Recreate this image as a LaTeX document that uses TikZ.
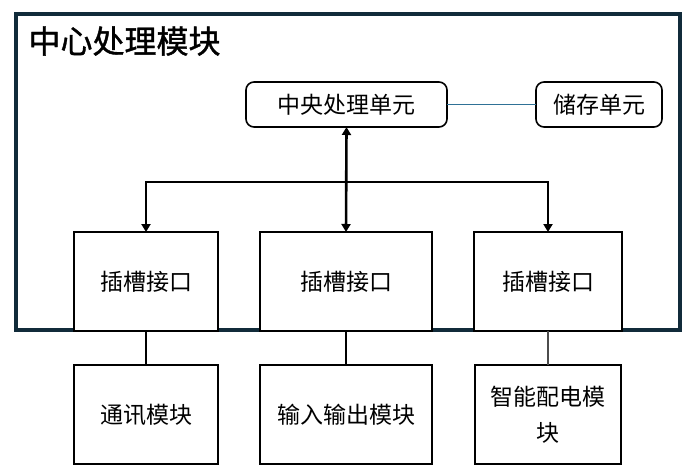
\documentclass[tikz,border=0pt]{standalone}
\usepackage{fontspec}
\newfontfamily\cjk{Noto Sans CJK SC}
\newfontfamily\cjkt[FakeBold=1.2]{Noto Sans CJK SC}
\usetikzlibrary{arrows.meta}
\definecolor{framec}{HTML}{112B3A}
\definecolor{linkc}{HTML}{2F7196}
\begin{document}
\begin{tikzpicture}[x=1pt,y=-1pt,
  font=\cjk\fontsize{23}{29}\selectfont,
  box/.style={draw=black, line width=2pt, fill=white, inner sep=0pt, outer sep=0pt, minimum height=99pt, align=center},
  rbox/.style={draw=black, line width=1.6pt, fill=white, rounded corners=8pt, inner sep=0pt, outer sep=0pt, minimum height=45pt},
  arr/.style={line width=2.6pt, -{Triangle[length=8pt,width=9pt]}},
  tie/.style={line width=1.6pt}]
\useasboundingbox (0,0) rectangle (695,475);
\draw[draw=framec, line width=4pt] (16,14) rectangle (680,330);
\node[anchor=west, font=\cjkt\fontsize{32}{36}\selectfont] (title) at (25,41) {中心处理模块};
\node[rbox, minimum width=201pt] (cpu) at (346.5,104.5) {中央处理单元};
\node[rbox, minimum width=126pt] (stor) at (599,104.5) {储存单元};
\draw[draw=linkc, line width=1.4pt] (cpu.east) -- (stor.west);
\node[box, minimum width=144pt] (s1) at (146,281.5) {插槽接口};
\node[box, minimum width=172pt] (s2) at (346,281.5) {插槽接口};
\node[box, minimum width=148pt] (s3) at (548,281.5) {插槽接口};
\node[box, minimum width=144pt] (m1) at (146,414.5) {通讯模块};
\node[box, minimum width=172pt] (m2) at (346,414.5) {输入输出模块};
\node[box, minimum width=146pt, font=\cjk\fontsize{23}{36}\selectfont] (m3) at (548,414.5) {智能配电模\\块};
\coordinate (j) at (346,182);
\draw[arr, {Triangle[length=8pt,width=9pt]}-{Triangle[length=8pt,width=9pt]}] (cpu.south) -- (s2.north);
\draw[arr] (j) -| (s1.north);
\draw[arr] (j) -| (s3.north);
\draw[tie] (s1.south) -- (m1.north);
\draw[tie] (s2.south) -- (m2.north);
\draw[tie, draw=black!70, line width=1.2pt] (s3.south) -- (m3.north);
\end{tikzpicture}
\end{document}
